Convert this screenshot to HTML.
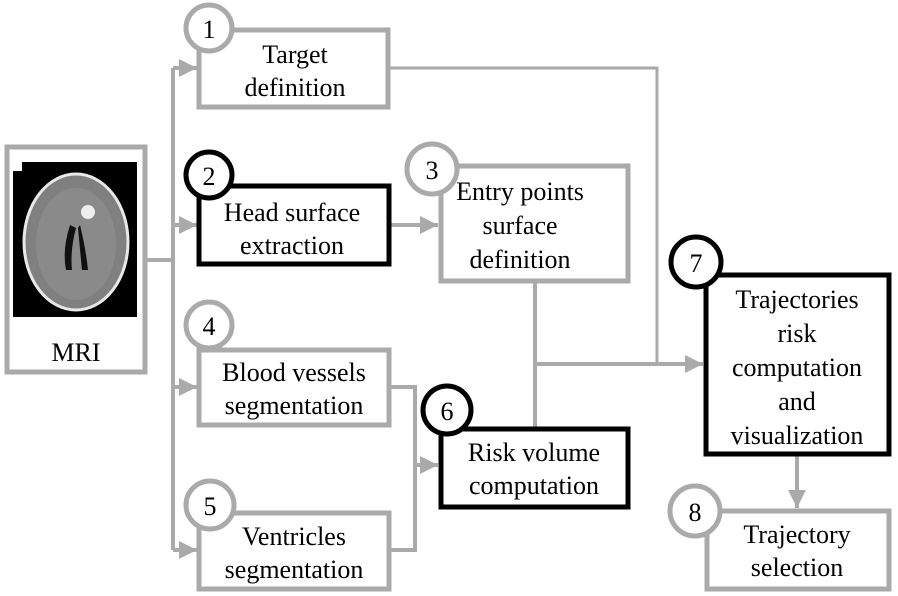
<!DOCTYPE html>
<html><head><meta charset="utf-8"><style>
html,body{margin:0;padding:0;background:#fff;}
body{position:relative;width:898px;height:596px;overflow:hidden}
svg{display:block;position:absolute;left:0;top:0}
.t{position:absolute;font-family:"Liberation Serif","Times New Roman",serif;font-size:26px;line-height:33px;color:#000;text-align:center;white-space:nowrap;transform:translateX(-50%)}
</style></head><body>
<svg width="898" height="596" viewBox="0 0 898 596">
<defs>
<marker id="b" viewBox="0 0 10 10" markerWidth="18" markerHeight="18" refX="10" refY="5" orient="auto" markerUnits="userSpaceOnUse"><path d="M0,0 L10,5 L0,10Z" fill="#aaa"/></marker>
</defs>
<g stroke="#aaa" stroke-width="4" fill="none">
<path d="M146,260 H173"/>
<path d="M173,68 V550"/>
<path d="M173,68 H197" marker-end="url(#b)"/>
<path d="M173,225 H197" marker-end="url(#b)"/>
<path d="M173,387 H197" marker-end="url(#b)"/>
<path d="M173,550 H197" marker-end="url(#b)"/>
<path d="M390,225 H438" marker-end="url(#b)"/>
<path d="M390,387 H415 V550 H390"/>
<path d="M415,465 H438" marker-end="url(#b)"/>
<path d="M389,68 H657 V364" stroke-width="3"/>
<path d="M535,282 V428"/>
<path d="M535,364 H703" marker-end="url(#b)"/>
<path d="M797,455 V508" marker-end="url(#b)"/>
</g>
<rect x="7" y="147" width="138" height="225" fill="#fff" stroke="#aaa" stroke-width="5"/>
<rect x="22" y="162" width="115" height="26" fill="#000"/>
<rect x="13" y="171" width="124" height="146" fill="#000"/>
<ellipse cx="76" cy="242" rx="52" ry="68" fill="#808080" stroke="#e8e8e8" stroke-width="3"/>
<ellipse cx="76" cy="244" rx="40" ry="56" fill="#8a8a8a"/>
<path d="M70,225 Q62,250 66,270 L72,270 Q70,250 76,228Z" fill="#111"/>
<path d="M80,225 Q86,250 88,270 L82,270 Q80,250 78,228Z" fill="#111"/>
<circle cx="88" cy="212" r="7" fill="#eee"/>
<g fill="#fff">
<rect x="199" y="30" width="189" height="77" stroke="#aaa" stroke-width="5"/>
<rect x="199" y="186" width="190" height="78" stroke="#000" stroke-width="5"/>
<rect x="441" y="166" width="187" height="115" stroke="#aaa" stroke-width="5"/>
<rect x="199" y="350" width="190" height="75" stroke="#aaa" stroke-width="5"/>
<rect x="199" y="513" width="190" height="76" stroke="#aaa" stroke-width="5"/>
<rect x="441" y="429" width="187" height="78" stroke="#000" stroke-width="5"/>
<rect x="706" y="275" width="183" height="179" stroke="#000" stroke-width="5"/>
<rect x="707" y="511" width="182" height="78" stroke="#aaa" stroke-width="5"/>
<circle cx="209" cy="28" r="23" stroke="#aaa" stroke-width="5"/>
<circle cx="209" cy="175" r="23" stroke="#000" stroke-width="5"/>
<circle cx="432" cy="169" r="25" stroke="#aaa" stroke-width="5"/>
<circle cx="209" cy="325" r="23" stroke="#aaa" stroke-width="5"/>
<circle cx="210" cy="505" r="24" stroke="#aaa" stroke-width="5"/>
<circle cx="447" cy="410" r="24" stroke="#000" stroke-width="5"/>
<circle cx="696" cy="262" r="25" stroke="#000" stroke-width="5"/>
<circle cx="695" cy="511" r="25" stroke="#aaa" stroke-width="5"/>
</g>
</svg>
<div class="t" style="left:76px;top:336px">MRI</div>
<div class="t" style="left:209px;top:13px">1</div>
<div class="t" style="left:209px;top:160px">2</div>
<div class="t" style="left:432px;top:154px">3</div>
<div class="t" style="left:209px;top:310px">4</div>
<div class="t" style="left:210px;top:490px">5</div>
<div class="t" style="left:447px;top:395px">6</div>
<div class="t" style="left:696px;top:247px">7</div>
<div class="t" style="left:695px;top:496px">8</div>
<div class="t" style="left:295px;top:38px">Target<br>definition</div>
<div class="t" style="left:292px;top:196px">Head surface<br>extraction</div>
<div class="t" style="left:520px;top:175px;line-height:34px">Entry points<br>surface<br>definition</div>
<div class="t" style="left:294px;top:356px">Blood vessels<br>segmentation</div>
<div class="t" style="left:294px;top:520px">Ventricles<br>segmentation</div>
<div class="t" style="left:534px;top:436px">Risk volume<br>computation</div>
<div class="t" style="left:797px;top:283px;line-height:34px">Trajectories<br>risk<br>computation<br>and<br>visualization</div>
<div class="t" style="left:797px;top:518px">Trajectory<br>selection</div>
</body></html>
